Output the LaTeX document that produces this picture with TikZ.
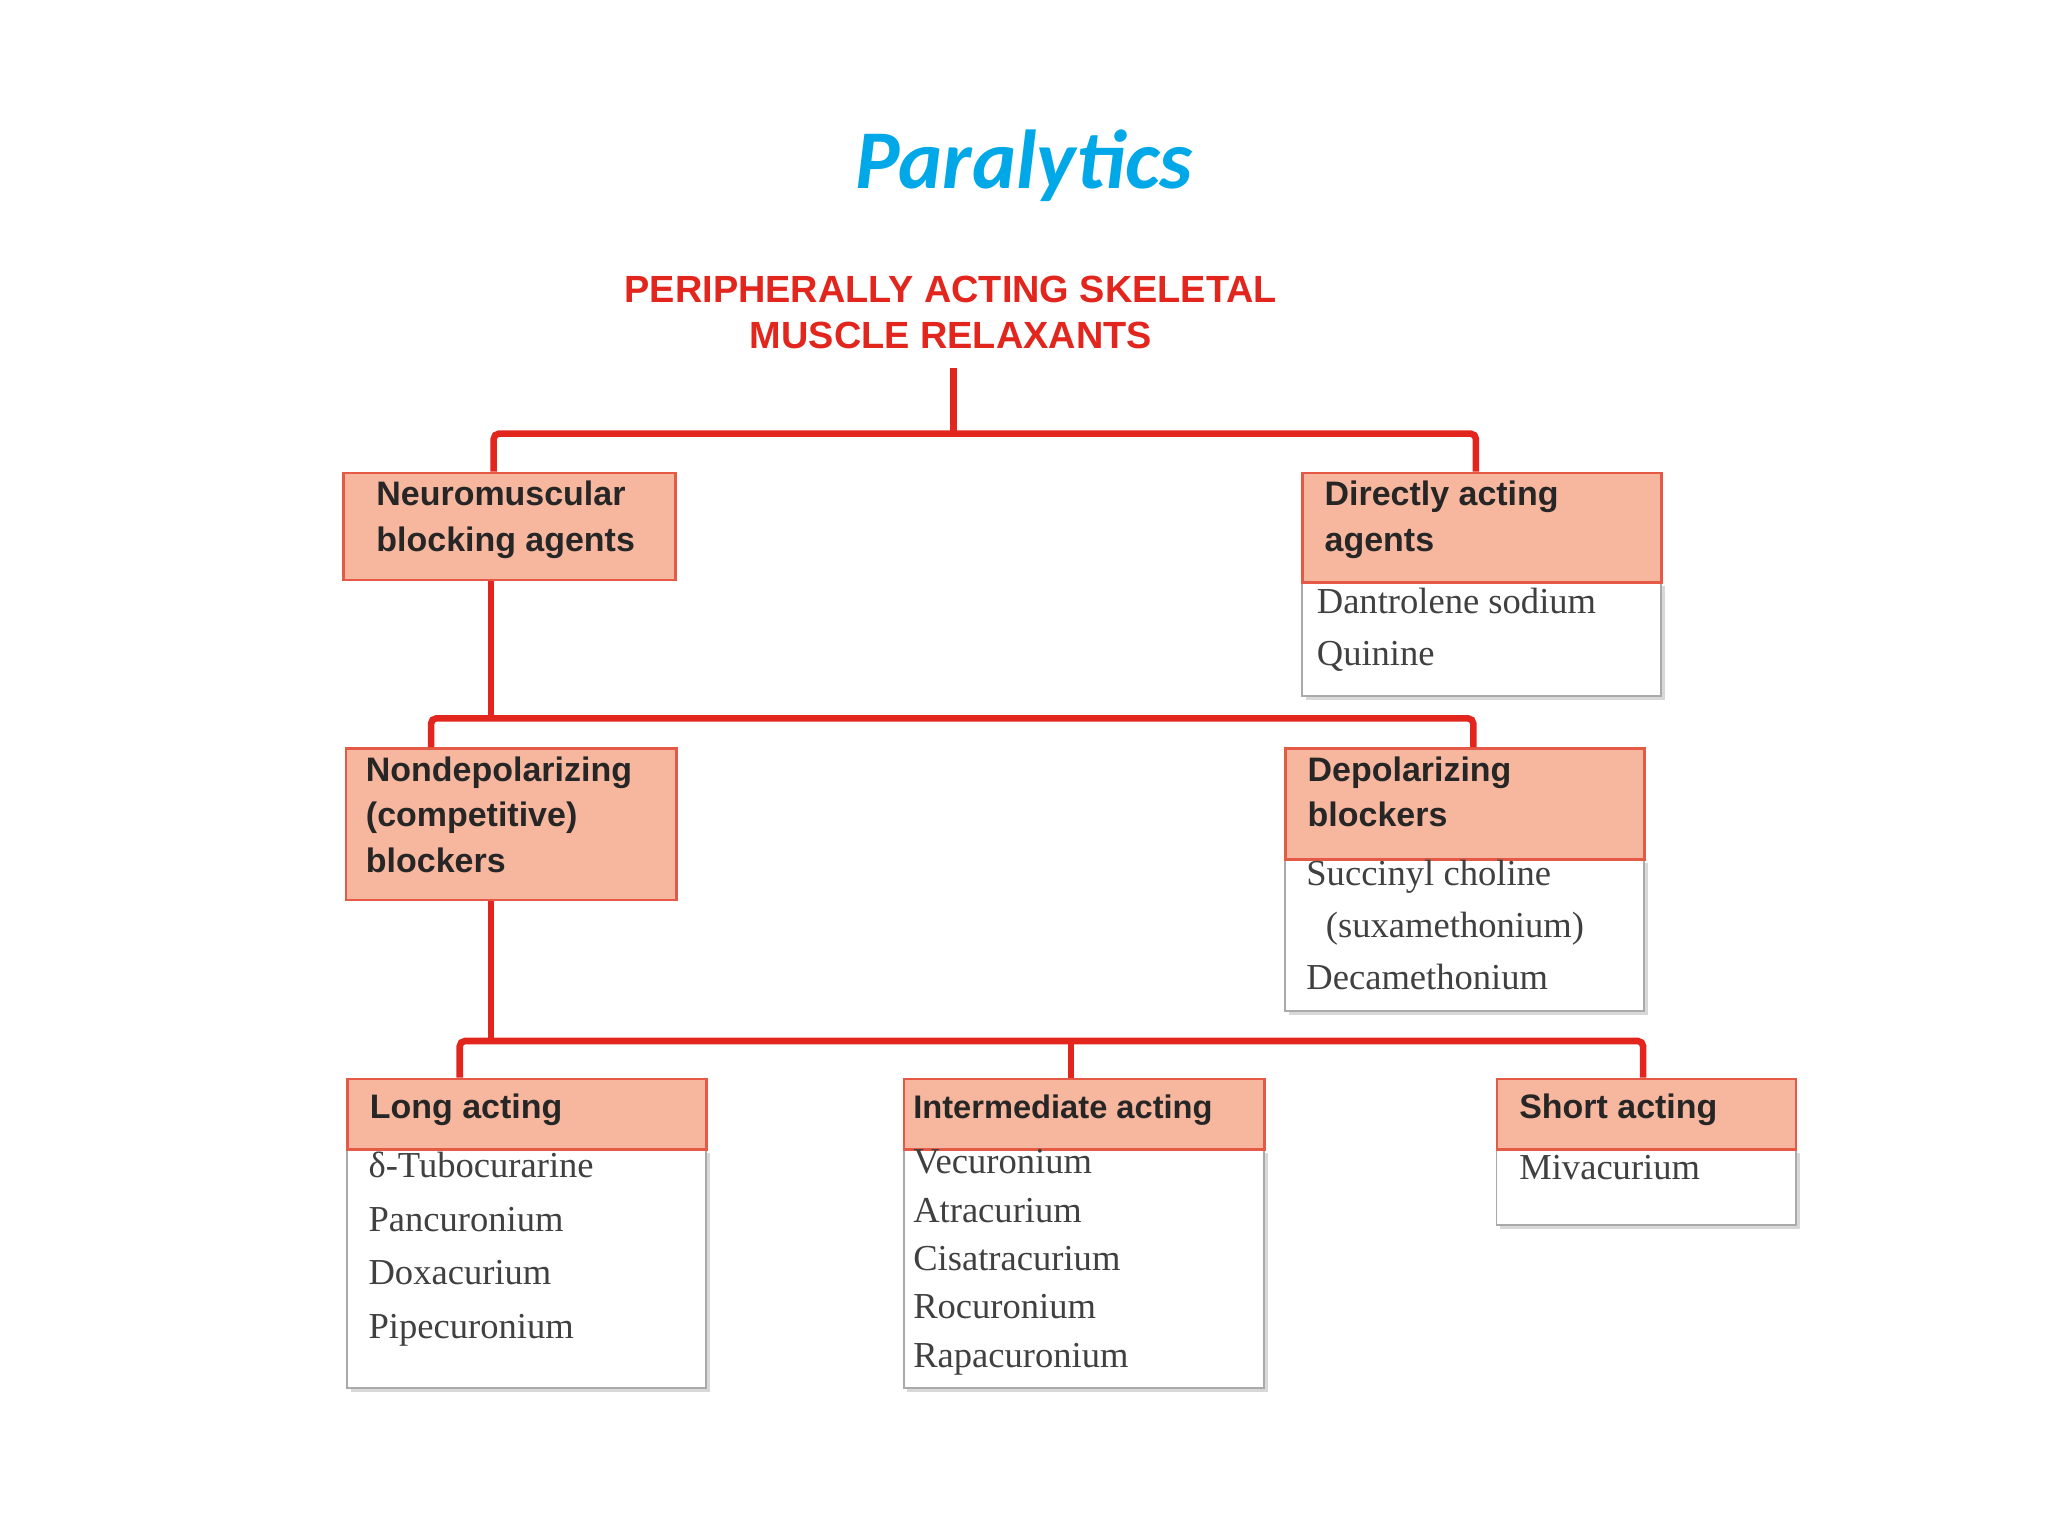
\documentclass[tikz,border=0pt]{standalone}
\usepackage{fontspec}
\setmainfont{Liberation Serif}
\newfontfamily\hdr{Liberation Sans}
\newfontfamily\ttl{Carlito}
\usetikzlibrary{shadows}
\definecolor{salmon}{RGB}{247,182,158}
\definecolor{bord}{RGB}{228,90,70}
\definecolor{lnred}{RGB}{226,38,30}
\definecolor{cyanT}{RGB}{0,168,232}
\definecolor{gbord}{RGB}{170,170,170}
\tikzset{
 hbox/.style={draw=bord,line width=2pt,fill=salmon,anchor=north west,inner sep=0pt},
 htxt/.style={anchor=north west,align=left,font=\hdr\bfseries\fontsize{26}{35}\selectfont,text=black!85,inner sep=0pt},
 lbox/.style={draw=gbord,line width=1.5pt,fill=white,anchor=north west,inner sep=0pt,
   drop shadow={shadow xshift=3pt,shadow yshift=-3pt,fill=black!30}},
 ltxt/.style={anchor=north west,align=left,font=\fontsize{28}{40}\selectfont,text=black!75,inner sep=0pt},
 con/.style={lnred,line width=5pt}
}
\begin{document}
\begin{tikzpicture}[x=1pt,y=-1pt]
\useasboundingbox (0,0) rectangle (1568,1176);
\node[font=\ttl\bfseries\itshape\fontsize{64}{70}\selectfont,text=cyanT] (title) at (784,127) {Paralytics};
\node[font=\hdr\bfseries\fontsize{29}{35}\selectfont,text=lnred,align=center] (top) at (728,239) {PERIPHERALLY ACTING SKELETAL\\MUSCLE RELAXANTS};
% boxes
\node[hbox,minimum width=254pt,minimum height=82pt] (nmb) at (262,361) {};
\node[htxt] (nmbt) at (288,368) {Neuromuscular\\blocking agents};
\node[lbox,minimum width=275pt,minimum height=87pt] (dal) at (996,445) {};
\node[hbox,minimum width=275pt,minimum height=84pt] (da) at (996,361) {};
\node[htxt] (dat) at (1014,368) {Directly acting\\agents};
\node[ltxt] (dalt) at (1008,450) {Dantrolene sodium\\Quinine};

\node[hbox,minimum width=253pt,minimum height=116pt] (nd) at (264,572) {};
\node[htxt] (ndt) at (280,579) {Nondepolarizing\\(competitive)\\blockers};
\node[lbox,minimum width=275pt,minimum height=116pt] (dpl) at (983,657) {};
\node[hbox,minimum width=275pt,minimum height=85pt] (dp) at (983,572) {};
\node[htxt] (dpt) at (1001,579) {Depolarizing\\blockers};
\node[ltxt] (dplt) at (1000,658) {Succinyl choline\\\hspace*{15pt}(suxamethonium)\\Decamethonium};

\node[lbox,minimum width=275pt,minimum height=183pt] (lal) at (265,879) {};
\node[hbox,minimum width=275pt,minimum height=54pt] (la) at (265,825) {};
\node[htxt,anchor=west] (lat) at (283,850) {Long acting};
\node[ltxt,font=\fontsize{28}{41}\selectfont] (lalt) at (282,882) {δ-Tubocurarine\\Pancuronium\\Doxacurium\\Pipecuronium};

\node[lbox,minimum width=276pt,minimum height=183pt] (ial) at (691,879) {};
\node[hbox,minimum width=276pt,minimum height=54pt] (ia) at (691,825) {};
\node[htxt,anchor=west,font=\hdr\bfseries\fontsize{25}{35}\selectfont] (iat) at (699,850) {Intermediate acting};
\node[ltxt,font=\fontsize{28}{37}\selectfont] (ialt) at (699,880) {Vecuronium\\Atracurium\\Cisatracurium\\Rocuronium\\Rapacuronium};

\node[lbox,minimum width=229pt,minimum height=58pt] (sal) at (1145,879) {};
\node[hbox,minimum width=229pt,minimum height=54pt] (sa) at (1145,825) {};
\node[htxt,anchor=west] (sat) at (1163,850) {Short acting};
\node[ltxt] (salt) at (1163,884) {Mivacurium};

% connectors
\coordinate (j1) at (730,332);
\coordinate (j0) at (730,282);
\draw[con] (j0) -- (j1);
\draw[con,rounded corners=4pt] (nmb.north -| 378,0) -- (378,332) -- (1130,332) -- (da.north -| 1130,0);
\draw[con] (nmb.south -| 376,0) -- (376,550);
\draw[con,rounded corners=4pt] (nd.north -| 330,0) -- (330,550) -- (1128,550) -- (dp.north -| 1128,0);
\draw[con] (nd.south -| 376,0) -- (376,797);
\draw[con,rounded corners=4pt] (la.north -| 352,0) -- (352,797) -- (1258,797) -- (sa.north -| 1258,0);
\draw[con] (820,797) -- (ia.north -| 820,0);
\end{tikzpicture}
\end{document}
